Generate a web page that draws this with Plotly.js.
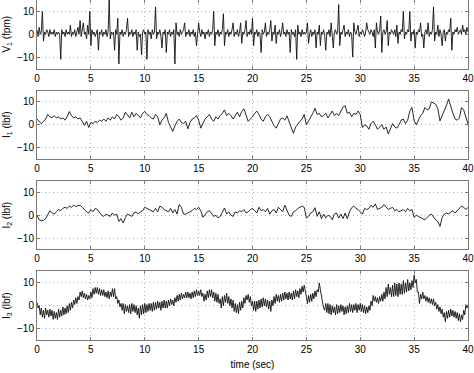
<!DOCTYPE html>
<html><head><meta charset="utf-8">
<script src="https://cdn.plot.ly/plotly-3.0.1.min.js"></script>
<style>html,body{margin:0;padding:0;background:#fff}#chart{width:474px;height:373px}</style>
</head><body><div id="chart"></div><script>
// sample spacing (sec) of each recorded series
const v1Step = 0.1, i1Step = 0.2, i2Step = 0.2, i3Step = 0.1;

// V1 (fpm), 0..40 s
const v1 = [
2,-1,3,0,1,10,-3,1,0,2,
1,-1,2,0,1,0,2,-1,1,0,
1,0,-11,2,0,1,-1,2,0,1,
0,4,-1,1,0,2,-1,1,3,0,
6,-1,2,5,0,1,-2,4,0,10,
-5,2,0,1,-1,1,2,-7,1,0,
2,-1,1,0,2,-1,1,15,-2,1,
0,1,-7,2,0,7,-13,1,0,2,
-1,1,0,2,7,-1,1,0,2,-1,
1,0,2,-7,1,-1,0,-9,1,2,
0,1,-11,2,0,1,-2,2,0,1,
12,-2,1,0,2,-1,-6,1,0,2,
-8,1,0,2,-1,1,0,2,-13,5,
0,1,-1,2,0,1,2,5,-1,1,
0,2,-1,1,0,2,-1,1,-5,0,
5,1,-1,2,0,1,-2,1,0,2,
-1,1,0,2,10,-5,1,0,2,-1,
1,0,2,9,-5,1,0,2,-1,1,
0,2,5,-1,1,0,2,-1,1,5,
-4,1,0,2,6,-1,1,0,2,0,
7,-5,1,0,2,-1,1,0,-8,2,
0,1,5,-1,1,0,2,6,-3,1,
0,4,-4,1,0,2,-1,1,5,0,
1,-1,2,0,1,-8,2,0,1,-1,
2,-11,4,0,1,-1,2,0,1,0,
1,5,-4,0,2,-1,1,0,2,-6,
1,0,4,-5,1,0,2,-1,-7,1,
0,2,-1,5,0,-6,1,2,0,1,
13,-5,1,0,2,4,-1,1,0,2,
-1,1,0,-10,5,1,0,2,4,-1,
1,0,2,1,-1,1,5,2,1,0,
2,1,-1,2,-6,5,1,0,2,8,
-8,1,2,0,1,6,-5,1,0,2,
1,0,2,-1,4,-4,1,0,2,1,
10,-2,1,0,2,1,10,-3,1,0,
2,-6,1,0,2,1,5,-1,0,-6,
1,2,0,5,-1,1,0,2,12,-3,
1,0,4,-1,2,0,-5,1,2,-3,
1,0,2,1,7,-7,1,0,2,1,
3,0,1,2,0,4,1,2,0,3,
1];

// I1 (lbf)
const i1 = [
2.5,1.5,0.5,1.5,2.5,
4.5,3.5,3.0,4.0,3.0,
3.5,2.5,3.0,2.0,3.5,
5.8,4.0,3.0,3.5,2.5,
3.0,1.5,-0.3,1.5,-1.2,
1.0,0.5,1.5,1.0,2.0,
1.5,2.5,1.5,3.0,2.0,
3.5,2.5,4.5,3.5,2.0,
3.0,5.5,4.0,3.0,5.5,
3.5,5.0,4.0,3.0,5.0,
5.8,4.5,4.0,3.0,2.5,
4.5,3.5,0.0,2.0,3.0,
5.0,1.0,-1.0,-2.9,-0.5,
1.5,2.5,1.0,0.5,1.5,
-1.8,1.0,2.5,3.0,4.0,
2.0,-1.5,0.5,2.5,3.5,
4.5,2.5,1.5,3.5,2.5,
4.0,5.0,6.5,4.0,5.0,
4.0,2.5,4.0,5.5,3.5,
5.8,7.0,4.0,1.5,2.5,
3.5,5.0,6.0,4.5,2.5,
1.5,3.5,4.6,3.5,1.5,
-0.4,-1.5,0.5,2.5,3.0,
2.0,3.9,1.0,-1.0,-3.8,
-1.0,0.5,1.5,2.5,4.5,
0.0,1.5,3.5,5.0,7.2,
4.5,5.0,3.5,4.0,5.0,
3.0,4.5,6.0,4.0,5.0,
4.0,6.0,7.8,8.3,5.0,
5.5,3.5,5.0,4.5,6.0,
4.5,-1.2,0.0,-0.5,-2.0,
0.5,1.5,0.0,-2.0,-1.0,
0.0,-2.0,-1.0,-4.0,-1.5,
0.5,-1.0,-1.5,0.0,2.0,
2.5,0.5,2.0,6.0,7.6,
1.7,0.0,2.0,4.0,5.0,
7.6,6.5,7.0,10.0,9.5,
9.0,7.0,1.7,4.0,6.0,
8.5,11.3,7.5,5.0,2.5,
2.0,3.0,7.5,6.5,3.0,
0.3];

// I2 (lbf)
const i2 = [
0,-2.0,-2.4,-2.2,-1.5,
0.5,2.0,1.0,0.5,1.5,
2.5,2.0,3.0,3.5,3.0,
4.0,3.5,4.4,3.8,4.2,
4.4,3.5,2.5,1.5,1.0,
2.5,1.5,3.0,2.5,1.0,
0.0,-0.5,0.5,0.0,-0.5,
1.0,0.0,0.5,-2.7,-1.5,
-3.4,-1.0,0.5,0.0,-0.5,
1.0,1.5,0.5,1.5,2.0,
3.5,3.0,2.5,2.0,1.5,
3.0,1.5,4.0,3.5,2.5,
2.0,1.5,3.0,1.0,2.5,
0.5,4.7,3.5,0.5,0.5,
1.0,1.5,2.0,3.0,2.5,
3.5,2.0,-0.9,0.5,1.5,
2.0,0.5,-0.5,0.0,-1.2,
-0.5,1.5,3.2,0.5,1.5,
0.0,-0.5,1.5,1.0,2.0,
1.5,2.5,1.0,1.5,2.5,
3.0,2.0,1.0,3.5,2.0,
2.5,1.5,3.0,0.5,2.0,
2.5,1.0,3.5,2.5,1.5,
4.4,2.0,0.0,-0.5,1.5,
2.0,3.0,3.5,4.0,3.5,
-1.2,-0.5,1.0,1.5,3.3,
-0.5,1.5,-1.5,0.5,-1.2,
0.0,-0.5,-2.0,0.5,1.0,
-1.2,0.5,-1.5,1.0,-1.5,
1.5,3.3,4.0,3.0,2.5,
1.5,0.5,3.0,2.5,3.0,
4.4,3.5,5.0,2.5,3.0,
3.5,4.7,3.5,2.5,3.0,
3.5,2.0,2.5,1.5,2.0,
2.5,1.5,3.0,2.0,2.5,
-0.9,0.0,-0.5,-1.0,-1.5,
-2.0,-1.0,0.0,0.5,-1.0,
-2.0,-2.7,-4.9,-1.0,0.5,
1.0,0.5,1.5,2.0,1.0,
2.0,3.0,4.0,3.5,2.5,
3.5];

// I3 (lbf)
const i3 = [
1.5,-1,0,-4,-1,-5,-2,-5.5,-1,-4,
-2,-5,-1.5,-4.5,-2,-6,-2.5,-5.5,-3,-6,
-1.5,-5,-2,-4.5,-0.5,-4,-1,-3.5,0,-3,
1,-2,1.5,-1,2.5,0.5,3.5,1,4,2.5,
6,4,6.5,3.5,5.5,3,5,2.5,4.5,3,
6,3.5,7.5,5,8,5.5,8,5,7.5,4.5,
7,4.5,7,4,6,3.5,6.5,3,6,4,
7.5,4,7.5,3,4,1,2.5,-0.5,1,-2,
1,-3.5,0.5,-2.5,0,-3,0.5,-3.5,1,-2.5,
0.5,-3,0,-4,-1,-5.5,0,-4,0.5,-3.5,
1,-3,0.5,-2.5,1,-2,1,-2.5,1.5,-2,
1.5,-1.5,2,-1,1.5,-2,2,-1,2.5,-1,
2,-1,2.5,0,3,0.5,2.5,0,3.5,1.5,
4.5,2,5,2.5,5.5,3,5,3.5,6,3.5,
6,3.5,5.5,3,6,3.5,6.5,4,7,4.5,
6.5,4.5,7,4,5.5,2,5,2.5,6.5,3.5,
7,4,7,3.5,6,2,5.5,1.5,5,1,
3,-1,4,0,4.5,1.5,5.5,1,4,0,
3,-1,2.5,-2.5,1,-3,0.5,-3.5,1.5,-2,
2,-1,3.5,1,4.5,2.5,5,1.5,4,0,
2,-2,2,-2.5,2,-1.5,2.5,-1,3,-0.5,
3.5,0,3,-0.5,2.5,-1.5,2,-2.5,2.5,0,
4,1,5,2,4.5,1.5,5,2,5.5,2.5,
6,3,5.5,2.5,6,3,5.5,2.5,6.5,3,
7,4,6.5,3.5,7.5,5,8.5,6,9,5.5,
4,1,4.5,1.5,5,2,5.5,3,6.5,4,
7,6,10,7,4,0,-1,-2,1,-3,
1,-3.5,0.5,-4,0,-3,-0.5,-4,0.5,-3.5,
0,-3,0.5,-2.5,0,-4,-0.5,-3.5,0,-3,
1,-2.5,0.5,-3,0.5,-2,1,-3,0.5,-2,
1,-2.5,0.5,-3,0,-3.5,-0.5,-3,0,-2,
2,0,4.5,2,4,1.5,3.5,1,4,2,
5,2,6,3,8,4,9.5,5,8,4,
9,4,10,4.5,9.5,4,10,5,9.5,5,
11,5.5,10,6,11.5,6.5,10,7,11,8,
13.5,10,11.5,6,6,1,5,3,6,3,
4.5,2,4,1.5,3.5,1,3,0.5,3,0,
1.5,-1.5,0.5,-2.5,-0.5,-3.5,-1.5,-5,-3,-7,
-2.5,-5.5,-2,-5,-1.5,-4.5,-2,-5,-2.5,-5.5,
-3,-6.5,-3.5,-7,-4,-6,-2,-4,0.5,-1,
0.5];

const series = [v1, i1, i2, i3];
const steps = [v1Step, i1Step, i2Step, i3Step];
const yLabels = ['V<sub>1</sub> (fpm)', 'I<sub>1</sub> (lbf)', 'I<sub>2</sub> (lbf)', 'I<sub>3</sub> (lbf)'];
const xLabel = 'time (sec)';
const xTicks = [0, 5, 10, 15, 20, 25, 30, 35, 40];
const yTicks = [-10, 0, 10];
const yTickText = ['\u221210', '0', '10'];

const font = {family: 'Liberation Sans, Arial, sans-serif', size: 10, color: '#000'};
const domains = [[0.7985, 1.0], [0.5324, 0.7338], [0.2662, 0.4676], [0.0, 0.2015]];

const traces = series.map((s, k) => ({
  type: 'scatter', mode: 'lines', y: s, x0: 0, dx: steps[k],
  xaxis: k === 0 ? 'x' : 'x' + (k + 1), yaxis: k === 0 ? 'y' : 'y' + (k + 1),
  line: {color: '#111', width: 0.9}, hoverinfo: 'skip', showlegend: false
}));

const layout = {
  width: 474, height: 373,
  margin: {l: 37, r: 6, t: 0, b: 33, pad: 0},
  paper_bgcolor: '#fff', plot_bgcolor: '#fff',
  font: font, showlegend: false
};
const axCommon = {
  showline: true, linecolor: '#7a7a7a', linewidth: 1, mirror: 'allticks',
  ticks: 'inside', ticklen: 3, tickcolor: '#7a7a7a', tickwidth: 1,
  showgrid: true, gridcolor: '#b5b5b5', griddash: '1px,3px', gridwidth: 1,
  zeroline: false, tickfont: font, automargin: false, fixedrange: true
};
for (let k = 0; k < 4; k++) {
  const xa = k === 0 ? 'xaxis' : 'xaxis' + (k + 1);
  const ya = k === 0 ? 'yaxis' : 'yaxis' + (k + 1);
  layout[xa] = Object.assign({}, axCommon, {
    range: [0, 40], tickvals: xTicks, ticktext: xTicks.map(String),
    anchor: k === 0 ? 'y' : 'y' + (k + 1), domain: [0, 1]
  });
  layout[ya] = Object.assign({}, axCommon, {
    range: [-15, 15], tickvals: yTicks, ticktext: yTickText,
    anchor: k === 0 ? 'x' : 'x' + (k + 1), domain: domains[k],
    title: {text: yLabels[k], font: font, standoff: 4}
  });
}
layout.xaxis4.title = {text: xLabel, font: font, standoff: 6};

Plotly.newPlot('chart', traces, layout, {staticPlot: true, displayModeBar: false});
</script></body></html>
